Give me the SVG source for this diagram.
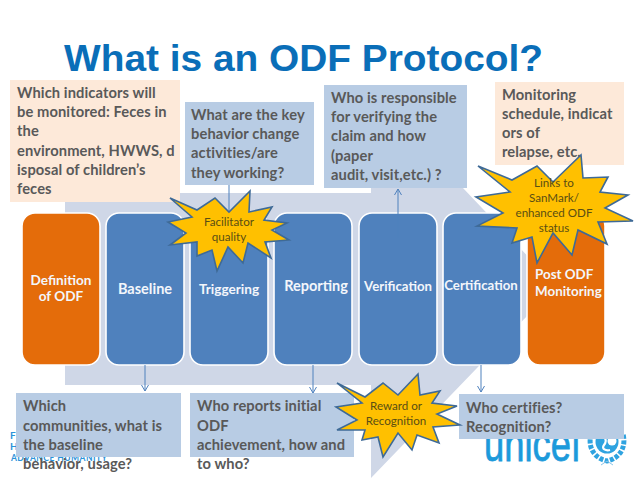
<svg xmlns="http://www.w3.org/2000/svg" width="638" height="478" viewBox="0 0 638 478">
<style>
text{font-family:"Lato","Carlito","Open Sans",sans-serif;font-weight:700}
.n{stroke:#fff;stroke-width:1.6}
.b{fill:#4F81BD}.o{fill:#E46C0A}
.nt{fill:#f3f6fb;font-size:14.5px;text-anchor:middle}
.q{fill:#595959;font-size:14.7px;letter-spacing:.1px}
.bb{fill:#B8CCE4}.pb{fill:#FDE9D9}
.star{fill:#FFC000;stroke:#3E6A97;stroke-width:1.6;stroke-linejoin:miter}
.st{fill:#5a4e14;font-size:11.6px;font-weight:400;text-anchor:middle}
.c{fill:none;stroke:#4F81BD;stroke-width:1}
.lg{fill:#2B93DA;font-family:"Liberation Sans",sans-serif;font-weight:700}
</style>
<defs>
<marker id="h" markerWidth="10" markerHeight="8" refX="7" refY="4" orient="auto" markerUnits="userSpaceOnUse"><path d="M1 0.5L7 4L1 7.5" fill="none" stroke="#4F81BD" stroke-width="1"/></marker>
</defs>
<rect width="638" height="478" fill="#fff"/>
<text x="64" y="71" style="font-family:'Liberation Sans',sans-serif;font-weight:700;font-size:37px;fill:#0A6EB8" textLength="479" lengthAdjust="spacingAndGlyphs">What is an ODF Protocol?</text>
<path id="backdrop" d="M65 193H371V110L463 188L556 286L371 478V385H65Z" fill="#CFD7E7"/>
<g id="logo-left" class="lg"><text x="10" y="439" font-size="10">F</text><text x="10" y="450" font-size="10">H</text><text x="11" y="461" font-size="8.5" textLength="96">ADVANCE HUMANITY</text></g>
<g id="logo-unicef">
<text x="484" y="461" style="font-family:'Liberation Sans',sans-serif;font-weight:400;font-size:49px;fill:#1C9ADB;stroke:#1C9ADB;stroke-width:.8" textLength="97" lengthAdjust="spacingAndGlyphs">unicef</text>
<path d="M591 434C587 450 597 459 607 461C617 459 627 450 623 434" fill="none" stroke="#2FA3E0" stroke-width="5" stroke-dasharray="4 1.5"/>
<circle cx="607" cy="442" r="13" fill="#fff"/>
<circle cx="607" cy="442" r="11.5" fill="#2FA3E0"/>
<path d="M599 438C604 434 608 440 604 445C601 449 606 451 610 450" fill="none" stroke="#fff" stroke-width="2.2"/>
<circle cx="612" cy="441" r="4.5" fill="#fff"/>
<path d="M601 465L607 461L613 465" fill="none" stroke="#8cc6ea" stroke-width="1"/>
</g>
<g id="node-definition"><rect class="n o" x="22" y="213" width="78" height="152" rx="13"/><text class="nt" style="font-size:13.6px"><tspan x="61" y="285">Definition</tspan><tspan x="61" y="301">of ODF</tspan></text></g>
<g id="node-baseline"><rect class="n b" x="106" y="213" width="78" height="152" rx="13"/><text class="nt" x="145" y="294">Baseline</text></g>
<g id="node-triggering"><rect class="n b" x="190" y="213" width="78" height="152" rx="13"/><text class="nt" style="font-size:13.6px" x="229" y="294">Triggering</text></g>
<g id="node-reporting"><rect class="n b" x="274" y="213" width="78" height="152" rx="13"/><text class="nt" x="316" y="291">Reporting</text></g>
<g id="node-verification"><rect class="n b" x="359" y="213" width="78" height="152" rx="13"/><text class="nt" style="font-size:13.2px" x="398" y="291">Verification</text></g>
<g id="node-certification"><rect class="n b" x="443" y="213" width="78" height="152" rx="13"/><text class="nt" style="font-size:13.2px" x="481" y="290">Certification</text></g>
<g id="node-post"><rect class="n o" x="527" y="213" width="78" height="152" rx="13"/><text class="nt" style="text-anchor:start;font-size:13.4px"><tspan x="535" y="279">Post ODF</tspan><tspan x="535" y="296">Monitoring</tspan></text></g>
<g id="connectors">
<path class="c" marker-end="url(#h)" d="M145 365V391"/>
<path class="c" marker-end="url(#h)" d="M313 365V393"/>
<path class="c" marker-end="url(#h)" d="M481 365V392"/>
<path class="c" marker-end="url(#h)" d="M229 213V176"/>
<path class="c" marker-end="url(#h)" d="M398 238V189"/>
</g>
<g id="q-indicators"><rect class="pb" x="10" y="80" width="170" height="122"/><text class="q"><tspan x="17" y="98">Which indicators will</tspan><tspan x="17" y="117">be monitored: Feces in</tspan><tspan x="17" y="136">the</tspan><tspan x="17" y="156">environment, HWWS, d</tspan><tspan x="17" y="175">isposal of children’s</tspan><tspan x="17" y="194">feces</tspan></text></g>
<g id="q-behavior"><rect class="bb" x="185" y="102" width="129" height="83"/><text class="q"><tspan x="191" y="120">What are the key</tspan><tspan x="191" y="139">behavior change</tspan><tspan x="191" y="158">activities/are</tspan><tspan x="191" y="178">they working?</tspan></text></g>
<g id="q-verify"><rect class="bb" x="324" y="85" width="143" height="103"/><text class="q"><tspan x="331" y="103">Who is responsible</tspan><tspan x="331" y="122">for verifying the</tspan><tspan x="331" y="141">claim and how</tspan><tspan x="331" y="161">(paper</tspan><tspan x="331" y="180">audit, visit,etc.) ?</tspan></text></g>
<g id="q-monitoring"><rect class="pb" x="495" y="82" width="129" height="83"/><text class="q"><tspan x="502" y="100">Monitoring</tspan><tspan x="502" y="119">schedule, indicat</tspan><tspan x="502" y="138">ors of</tspan><tspan x="502" y="157">relapse, etc.</tspan></text></g>
<g id="q-communities"><rect class="bb" x="16" y="393" width="165" height="64"/><text class="q"><tspan x="23" y="411">Which</tspan><tspan x="23" y="431">communities, what is</tspan><tspan x="23" y="450">the baseline</tspan><tspan x="23" y="469">behavior, usage?</tspan></text></g>
<g id="q-reports"><rect class="bb" x="190" y="393" width="164" height="64"/><text class="q"><tspan x="197" y="411">Who reports initial</tspan><tspan x="197" y="431">ODF</tspan><tspan x="197" y="450">achievement, how and</tspan><tspan x="197" y="469">to who?</tspan></text></g>
<g id="q-certifies"><rect class="bb" x="459" y="394" width="165" height="45"/><text class="q"><tspan x="466" y="413">Who certifies?</tspan><tspan x="466" y="432">Recognition?</tspan></text></g>
<g id="star-facilitator"><polygon class="star" points="170,198 197,210 215,198 229,212 250,191 249,212 272,207 264,220 287,223 272,230 289,240 265,242 271,258 248,243 243,263 228,247 217,271 212,250 197,256 197,242 170,245 186,233 168,222 192,217"/><text class="st"><tspan x="229" y="226">Facilitator</tspan><tspan x="229" y="241">quality</tspan></text></g>
<g id="star-links"><polygon class="star" points="478,166 512,180 537,166 553,182 581,155 583,178 608,177 600,192 628,195 605,208 633,221 598,222 607,244 578,230 572,255 553,233 537,263 532,237 512,243 517,228 477,226 503,213 476,197 510,192"/><text class="st"><tspan x="554" y="187">Links to</tspan><tspan x="554" y="202">SanMark/</tspan><tspan x="554" y="217">enhanced ODF</tspan><tspan x="554" y="232">status</tspan></text></g>
<g id="star-reward"><polygon class="star" points="337,383 365,397 383,383 398,395 418,374 420,395 440,391 432,403 457,406 437,414 460,425 433,427 439,443 417,435 412,450 398,433 383,457 378,437 362,440 365,430 337,430 357,420 336,407 362,403"/><text class="st"><tspan x="396" y="410">Reward or</tspan><tspan x="396" y="425">Recognition</tspan></text></g>
</svg>
